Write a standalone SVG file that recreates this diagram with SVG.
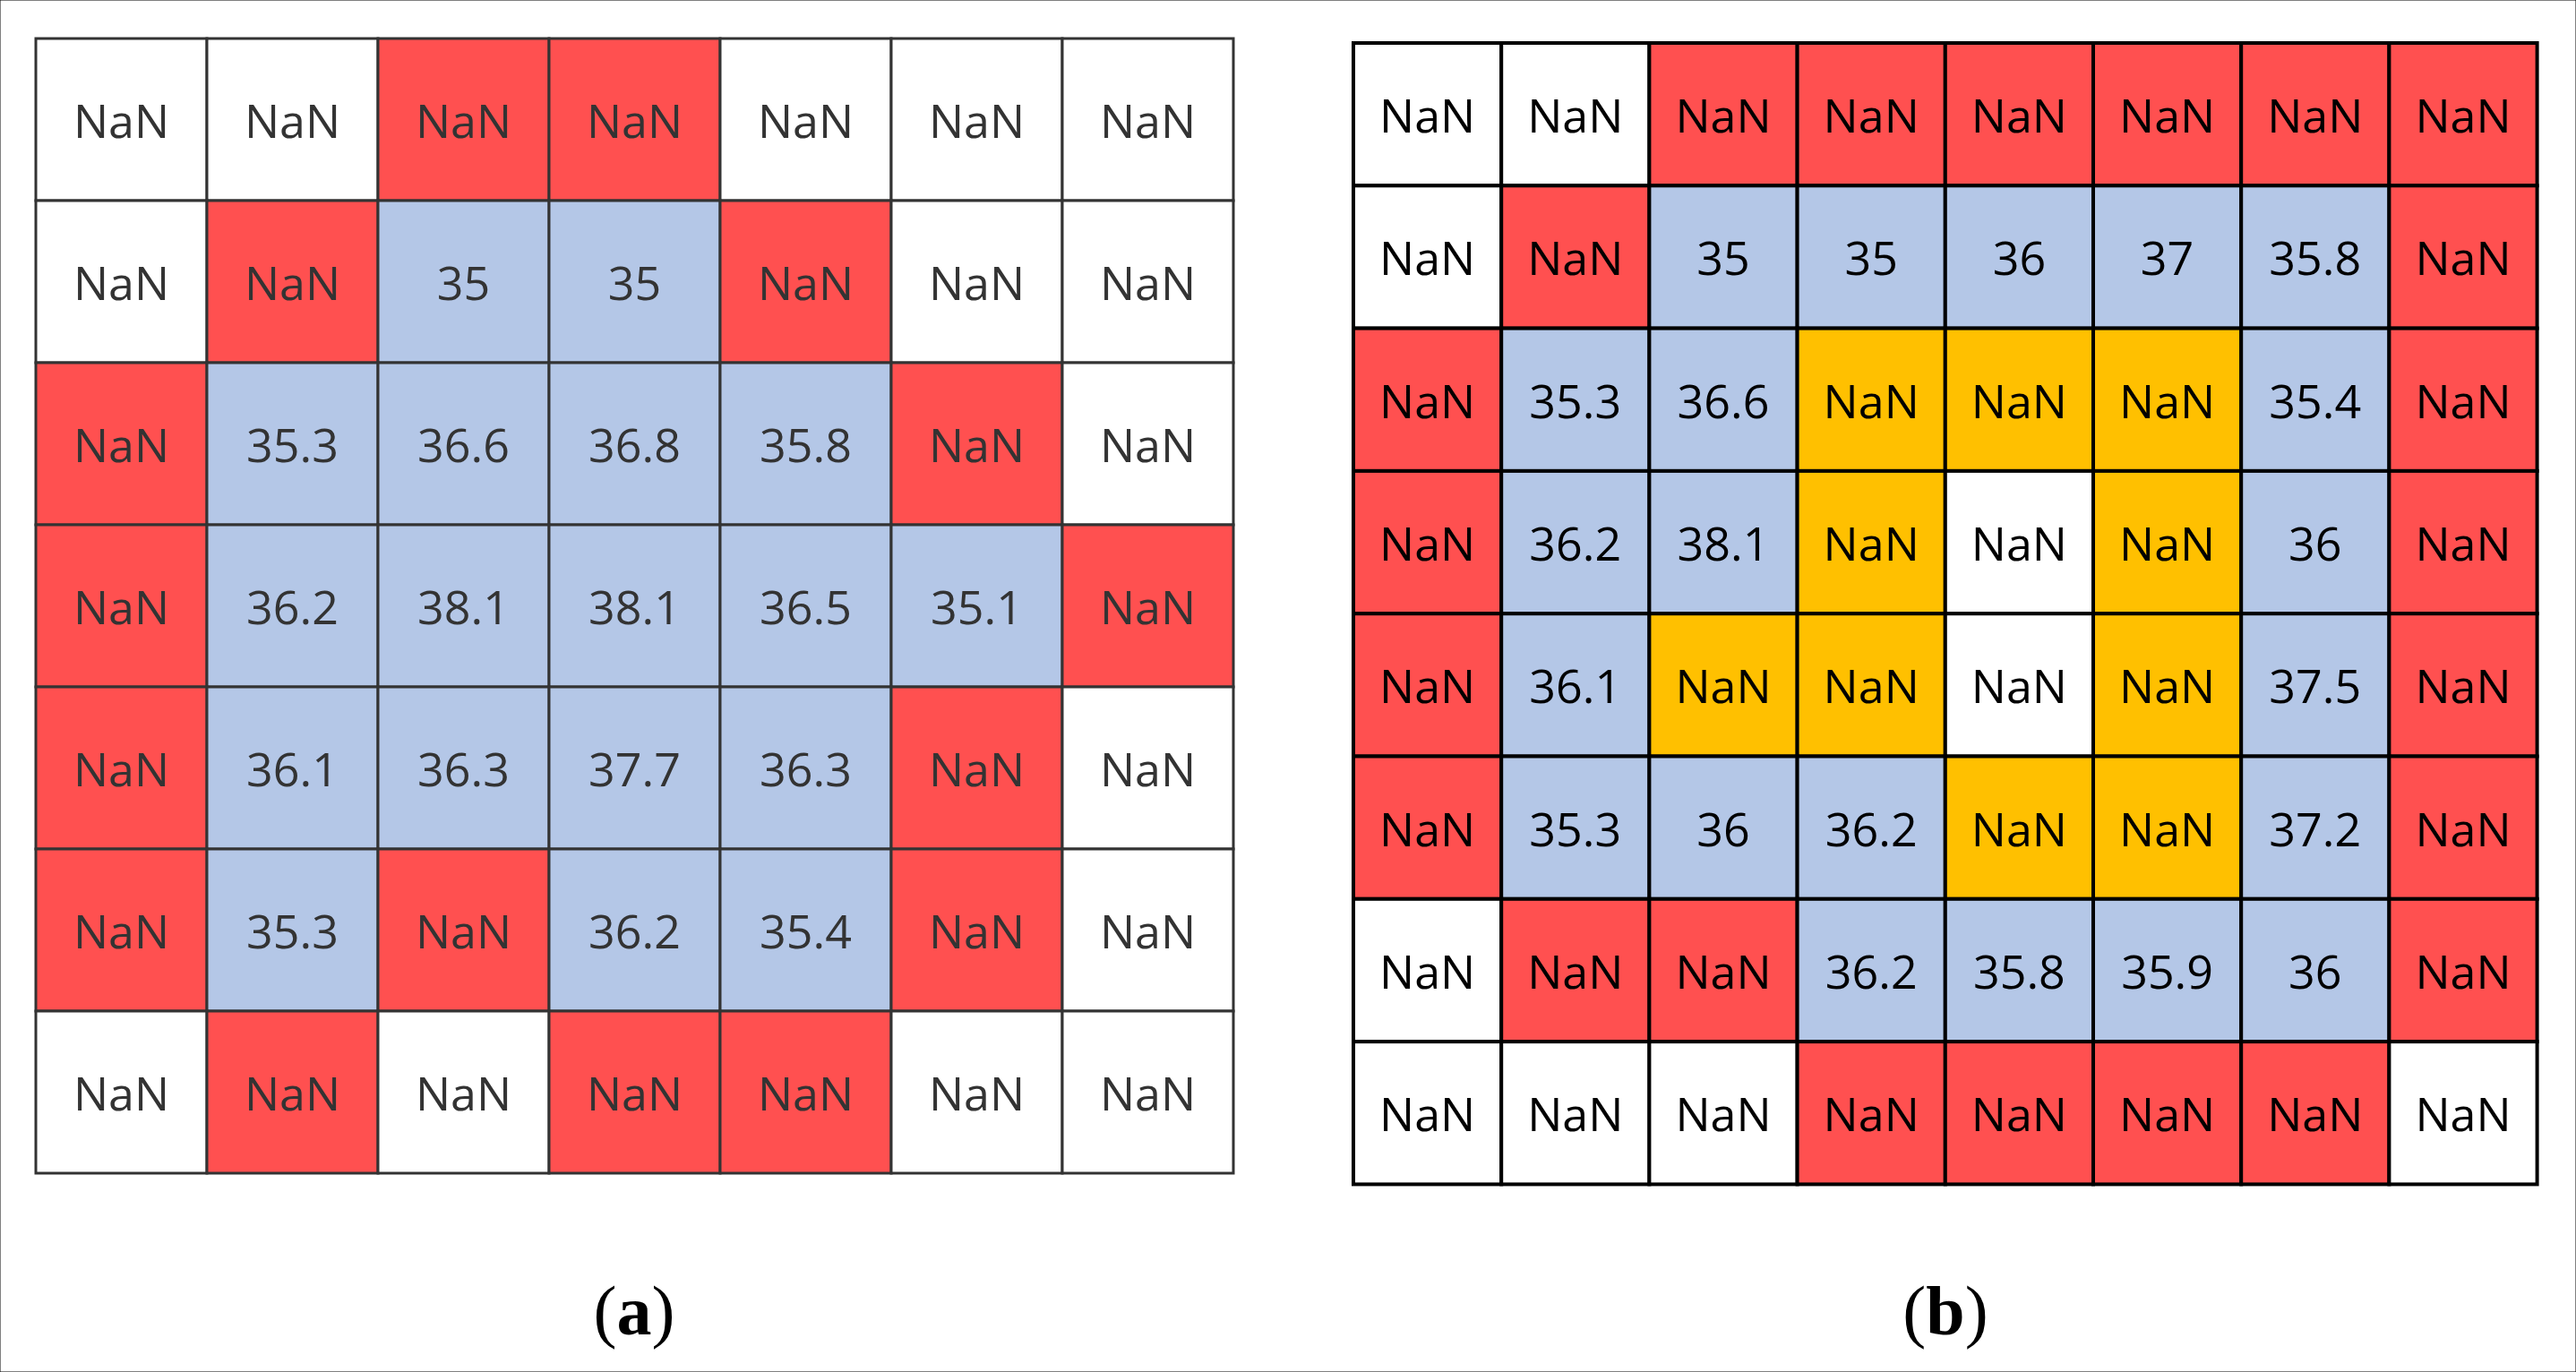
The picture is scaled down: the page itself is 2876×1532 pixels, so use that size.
<svg xmlns="http://www.w3.org/2000/svg" width="2876" height="1532" viewBox="0 0 2876 1532">
<style>
.w{fill:#fff}.r{fill:#FF5050}.b{fill:#B4C7E7}.o{fill:#FFC000}
rect{stroke:#000}
#A rect{stroke:#333;stroke-width:3}
#B rect{stroke-width:4}
text{font-family:"Open Sans","Liberation Sans",sans-serif;font-size:52px;text-anchor:middle;dominant-baseline:central}
#A text{fill:#333}
.cap{font-family:"Liberation Serif",serif;font-size:78px;dominant-baseline:auto}
</style>
<rect x="0" y="0" width="2876" height="1532" fill="#fff" stroke="none"/>
<g id="A">
<g id="a-r0"><rect class="w" x="40" y="43" width="191" height="181"/><text x="135.5" y="133.5">NaN</text><rect class="w" x="231" y="43" width="191" height="181"/><text x="326.5" y="133.5">NaN</text><rect class="r" x="422" y="43" width="191" height="181"/><text x="517.5" y="133.5">NaN</text><rect class="r" x="613" y="43" width="191" height="181"/><text x="708.5" y="133.5">NaN</text><rect class="w" x="804" y="43" width="191" height="181"/><text x="899.5" y="133.5">NaN</text><rect class="w" x="995" y="43" width="191" height="181"/><text x="1090.5" y="133.5">NaN</text><rect class="w" x="1186" y="43" width="191" height="181"/><text x="1281.5" y="133.5">NaN</text></g>
<g id="a-r1"><rect class="w" x="40" y="224" width="191" height="181"/><text x="135.5" y="314.5">NaN</text><rect class="r" x="231" y="224" width="191" height="181"/><text x="326.5" y="314.5">NaN</text><rect class="b" x="422" y="224" width="191" height="181"/><text x="517.5" y="314.5">35</text><rect class="b" x="613" y="224" width="191" height="181"/><text x="708.5" y="314.5">35</text><rect class="r" x="804" y="224" width="191" height="181"/><text x="899.5" y="314.5">NaN</text><rect class="w" x="995" y="224" width="191" height="181"/><text x="1090.5" y="314.5">NaN</text><rect class="w" x="1186" y="224" width="191" height="181"/><text x="1281.5" y="314.5">NaN</text></g>
<g id="a-r2"><rect class="r" x="40" y="405" width="191" height="181"/><text x="135.5" y="495.5">NaN</text><rect class="b" x="231" y="405" width="191" height="181"/><text x="326.5" y="495.5">35.3</text><rect class="b" x="422" y="405" width="191" height="181"/><text x="517.5" y="495.5">36.6</text><rect class="b" x="613" y="405" width="191" height="181"/><text x="708.5" y="495.5">36.8</text><rect class="b" x="804" y="405" width="191" height="181"/><text x="899.5" y="495.5">35.8</text><rect class="r" x="995" y="405" width="191" height="181"/><text x="1090.5" y="495.5">NaN</text><rect class="w" x="1186" y="405" width="191" height="181"/><text x="1281.5" y="495.5">NaN</text></g>
<g id="a-r3"><rect class="r" x="40" y="586" width="191" height="181"/><text x="135.5" y="676.5">NaN</text><rect class="b" x="231" y="586" width="191" height="181"/><text x="326.5" y="676.5">36.2</text><rect class="b" x="422" y="586" width="191" height="181"/><text x="517.5" y="676.5">38.1</text><rect class="b" x="613" y="586" width="191" height="181"/><text x="708.5" y="676.5">38.1</text><rect class="b" x="804" y="586" width="191" height="181"/><text x="899.5" y="676.5">36.5</text><rect class="b" x="995" y="586" width="191" height="181"/><text x="1090.5" y="676.5">35.1</text><rect class="r" x="1186" y="586" width="191" height="181"/><text x="1281.5" y="676.5">NaN</text></g>
<g id="a-r4"><rect class="r" x="40" y="767" width="191" height="181"/><text x="135.5" y="857.5">NaN</text><rect class="b" x="231" y="767" width="191" height="181"/><text x="326.5" y="857.5">36.1</text><rect class="b" x="422" y="767" width="191" height="181"/><text x="517.5" y="857.5">36.3</text><rect class="b" x="613" y="767" width="191" height="181"/><text x="708.5" y="857.5">37.7</text><rect class="b" x="804" y="767" width="191" height="181"/><text x="899.5" y="857.5">36.3</text><rect class="r" x="995" y="767" width="191" height="181"/><text x="1090.5" y="857.5">NaN</text><rect class="w" x="1186" y="767" width="191" height="181"/><text x="1281.5" y="857.5">NaN</text></g>
<g id="a-r5"><rect class="r" x="40" y="948" width="191" height="181"/><text x="135.5" y="1038.5">NaN</text><rect class="b" x="231" y="948" width="191" height="181"/><text x="326.5" y="1038.5">35.3</text><rect class="r" x="422" y="948" width="191" height="181"/><text x="517.5" y="1038.5">NaN</text><rect class="b" x="613" y="948" width="191" height="181"/><text x="708.5" y="1038.5">36.2</text><rect class="b" x="804" y="948" width="191" height="181"/><text x="899.5" y="1038.5">35.4</text><rect class="r" x="995" y="948" width="191" height="181"/><text x="1090.5" y="1038.5">NaN</text><rect class="w" x="1186" y="948" width="191" height="181"/><text x="1281.5" y="1038.5">NaN</text></g>
<g id="a-r6"><rect class="w" x="40" y="1129" width="191" height="181"/><text x="135.5" y="1219.5">NaN</text><rect class="r" x="231" y="1129" width="191" height="181"/><text x="326.5" y="1219.5">NaN</text><rect class="w" x="422" y="1129" width="191" height="181"/><text x="517.5" y="1219.5">NaN</text><rect class="r" x="613" y="1129" width="191" height="181"/><text x="708.5" y="1219.5">NaN</text><rect class="r" x="804" y="1129" width="191" height="181"/><text x="899.5" y="1219.5">NaN</text><rect class="w" x="995" y="1129" width="191" height="181"/><text x="1090.5" y="1219.5">NaN</text><rect class="w" x="1186" y="1129" width="191" height="181"/><text x="1281.5" y="1219.5">NaN</text></g>
</g>
<g id="B">
<g id="b-r0"><rect class="w" x="1511" y="48" width="165.2" height="159.3"/><text x="1593.6" y="127.6">NaN</text><rect class="w" x="1676.2" y="48" width="165.2" height="159.3"/><text x="1758.8" y="127.6">NaN</text><rect class="r" x="1841.4" y="48" width="165.2" height="159.3"/><text x="1924" y="127.6">NaN</text><rect class="r" x="2006.6" y="48" width="165.2" height="159.3"/><text x="2089.2" y="127.6">NaN</text><rect class="r" x="2171.8" y="48" width="165.2" height="159.3"/><text x="2254.4" y="127.6">NaN</text><rect class="r" x="2337" y="48" width="165.2" height="159.3"/><text x="2419.6" y="127.6">NaN</text><rect class="r" x="2502.2" y="48" width="165.2" height="159.3"/><text x="2584.8" y="127.6">NaN</text><rect class="r" x="2667.4" y="48" width="165.2" height="159.3"/><text x="2750" y="127.6">NaN</text></g>
<g id="b-r1"><rect class="w" x="1511" y="207.3" width="165.2" height="159.3"/><text x="1593.6" y="286.9">NaN</text><rect class="r" x="1676.2" y="207.3" width="165.2" height="159.3"/><text x="1758.8" y="286.9">NaN</text><rect class="b" x="1841.4" y="207.3" width="165.2" height="159.3"/><text x="1924" y="286.9">35</text><rect class="b" x="2006.6" y="207.3" width="165.2" height="159.3"/><text x="2089.2" y="286.9">35</text><rect class="b" x="2171.8" y="207.3" width="165.2" height="159.3"/><text x="2254.4" y="286.9">36</text><rect class="b" x="2337" y="207.3" width="165.2" height="159.3"/><text x="2419.6" y="286.9">37</text><rect class="b" x="2502.2" y="207.3" width="165.2" height="159.3"/><text x="2584.8" y="286.9">35.8</text><rect class="r" x="2667.4" y="207.3" width="165.2" height="159.3"/><text x="2750" y="286.9">NaN</text></g>
<g id="b-r2"><rect class="r" x="1511" y="366.6" width="165.2" height="159.3"/><text x="1593.6" y="446.2">NaN</text><rect class="b" x="1676.2" y="366.6" width="165.2" height="159.3"/><text x="1758.8" y="446.2">35.3</text><rect class="b" x="1841.4" y="366.6" width="165.2" height="159.3"/><text x="1924" y="446.2">36.6</text><rect class="o" x="2006.6" y="366.6" width="165.2" height="159.3"/><text x="2089.2" y="446.2">NaN</text><rect class="o" x="2171.8" y="366.6" width="165.2" height="159.3"/><text x="2254.4" y="446.2">NaN</text><rect class="o" x="2337" y="366.6" width="165.2" height="159.3"/><text x="2419.6" y="446.2">NaN</text><rect class="b" x="2502.2" y="366.6" width="165.2" height="159.3"/><text x="2584.8" y="446.2">35.4</text><rect class="r" x="2667.4" y="366.6" width="165.2" height="159.3"/><text x="2750" y="446.2">NaN</text></g>
<g id="b-r3"><rect class="r" x="1511" y="525.9" width="165.2" height="159.3"/><text x="1593.6" y="605.5">NaN</text><rect class="b" x="1676.2" y="525.9" width="165.2" height="159.3"/><text x="1758.8" y="605.5">36.2</text><rect class="b" x="1841.4" y="525.9" width="165.2" height="159.3"/><text x="1924" y="605.5">38.1</text><rect class="o" x="2006.6" y="525.9" width="165.2" height="159.3"/><text x="2089.2" y="605.5">NaN</text><rect class="w" x="2171.8" y="525.9" width="165.2" height="159.3"/><text x="2254.4" y="605.5">NaN</text><rect class="o" x="2337" y="525.9" width="165.2" height="159.3"/><text x="2419.6" y="605.5">NaN</text><rect class="b" x="2502.2" y="525.9" width="165.2" height="159.3"/><text x="2584.8" y="605.5">36</text><rect class="r" x="2667.4" y="525.9" width="165.2" height="159.3"/><text x="2750" y="605.5">NaN</text></g>
<g id="b-r4"><rect class="r" x="1511" y="685.2" width="165.2" height="159.3"/><text x="1593.6" y="764.8">NaN</text><rect class="b" x="1676.2" y="685.2" width="165.2" height="159.3"/><text x="1758.8" y="764.8">36.1</text><rect class="o" x="1841.4" y="685.2" width="165.2" height="159.3"/><text x="1924" y="764.8">NaN</text><rect class="o" x="2006.6" y="685.2" width="165.2" height="159.3"/><text x="2089.2" y="764.8">NaN</text><rect class="w" x="2171.8" y="685.2" width="165.2" height="159.3"/><text x="2254.4" y="764.8">NaN</text><rect class="o" x="2337" y="685.2" width="165.2" height="159.3"/><text x="2419.6" y="764.8">NaN</text><rect class="b" x="2502.2" y="685.2" width="165.2" height="159.3"/><text x="2584.8" y="764.8">37.5</text><rect class="r" x="2667.4" y="685.2" width="165.2" height="159.3"/><text x="2750" y="764.8">NaN</text></g>
<g id="b-r5"><rect class="r" x="1511" y="844.5" width="165.2" height="159.3"/><text x="1593.6" y="924.1">NaN</text><rect class="b" x="1676.2" y="844.5" width="165.2" height="159.3"/><text x="1758.8" y="924.1">35.3</text><rect class="b" x="1841.4" y="844.5" width="165.2" height="159.3"/><text x="1924" y="924.1">36</text><rect class="b" x="2006.6" y="844.5" width="165.2" height="159.3"/><text x="2089.2" y="924.1">36.2</text><rect class="o" x="2171.8" y="844.5" width="165.2" height="159.3"/><text x="2254.4" y="924.1">NaN</text><rect class="o" x="2337" y="844.5" width="165.2" height="159.3"/><text x="2419.6" y="924.1">NaN</text><rect class="b" x="2502.2" y="844.5" width="165.2" height="159.3"/><text x="2584.8" y="924.1">37.2</text><rect class="r" x="2667.4" y="844.5" width="165.2" height="159.3"/><text x="2750" y="924.1">NaN</text></g>
<g id="b-r6"><rect class="w" x="1511" y="1003.8" width="165.2" height="159.3"/><text x="1593.6" y="1083.4">NaN</text><rect class="r" x="1676.2" y="1003.8" width="165.2" height="159.3"/><text x="1758.8" y="1083.4">NaN</text><rect class="r" x="1841.4" y="1003.8" width="165.2" height="159.3"/><text x="1924" y="1083.4">NaN</text><rect class="b" x="2006.6" y="1003.8" width="165.2" height="159.3"/><text x="2089.2" y="1083.4">36.2</text><rect class="b" x="2171.8" y="1003.8" width="165.2" height="159.3"/><text x="2254.4" y="1083.4">35.8</text><rect class="b" x="2337" y="1003.8" width="165.2" height="159.3"/><text x="2419.6" y="1083.4">35.9</text><rect class="b" x="2502.2" y="1003.8" width="165.2" height="159.3"/><text x="2584.8" y="1083.4">36</text><rect class="r" x="2667.4" y="1003.8" width="165.2" height="159.3"/><text x="2750" y="1083.4">NaN</text></g>
<g id="b-r7"><rect class="w" x="1511" y="1163.1" width="165.2" height="159.3"/><text x="1593.6" y="1242.7">NaN</text><rect class="w" x="1676.2" y="1163.1" width="165.2" height="159.3"/><text x="1758.8" y="1242.7">NaN</text><rect class="w" x="1841.4" y="1163.1" width="165.2" height="159.3"/><text x="1924" y="1242.7">NaN</text><rect class="r" x="2006.6" y="1163.1" width="165.2" height="159.3"/><text x="2089.2" y="1242.7">NaN</text><rect class="r" x="2171.8" y="1163.1" width="165.2" height="159.3"/><text x="2254.4" y="1242.7">NaN</text><rect class="r" x="2337" y="1163.1" width="165.2" height="159.3"/><text x="2419.6" y="1242.7">NaN</text><rect class="r" x="2502.2" y="1163.1" width="165.2" height="159.3"/><text x="2584.8" y="1242.7">NaN</text><rect class="w" x="2667.4" y="1163.1" width="165.2" height="159.3"/><text x="2750" y="1242.7">NaN</text></g>
</g>
<text class="cap" x="708" y="1490">(<tspan font-weight="bold">a</tspan>)</text>
<text class="cap" x="2172" y="1490">(<tspan font-weight="bold">b</tspan>)</text>
</svg>
